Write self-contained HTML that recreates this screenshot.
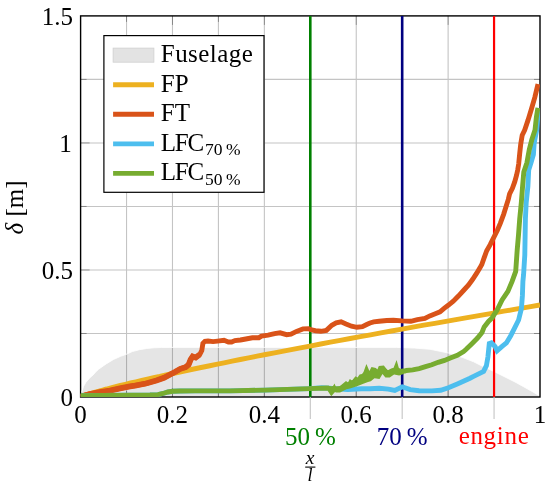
<!DOCTYPE html>
<html><head><meta charset="utf-8"><style>
html,body{margin:0;padding:0;background:#fff;}
svg{display:block;filter:blur(0.3px);}
</style></head><body>
<svg width="550" height="490" viewBox="0 0 550 490" font-family="Liberation Serif, serif" font-size="25">
<defs><clipPath id="c"><rect x="80.6" y="15.9" width="459.4" height="381.1"/></clipPath></defs>
<rect width="550" height="490" fill="#fff"/>
<g stroke="#c4c4c4" stroke-width="1.1"><line x1="126.54" y1="15.9" x2="126.54" y2="397.0"/><line x1="172.48" y1="15.9" x2="172.48" y2="397.0"/><line x1="218.42" y1="15.9" x2="218.42" y2="397.0"/><line x1="264.36" y1="15.9" x2="264.36" y2="397.0"/><line x1="310.30" y1="15.9" x2="310.30" y2="397.0"/><line x1="356.24" y1="15.9" x2="356.24" y2="397.0"/><line x1="402.18" y1="15.9" x2="402.18" y2="397.0"/><line x1="448.12" y1="15.9" x2="448.12" y2="397.0"/><line x1="494.06" y1="15.9" x2="494.06" y2="397.0"/><line x1="80.6" y1="333.48" x2="540.0" y2="333.48"/><line x1="80.6" y1="269.97" x2="540.0" y2="269.97"/><line x1="80.6" y1="206.45" x2="540.0" y2="206.45"/><line x1="80.6" y1="142.93" x2="540.0" y2="142.93"/><line x1="80.6" y1="79.42" x2="540.0" y2="79.42"/></g>
<rect x="80.6" y="15.9" width="459.40" height="381.10" fill="none" stroke="#000" stroke-width="1.4"/>
<g stroke="#000" stroke-width="0.8" stroke-opacity="0.4"><line x1="126.54" y1="397.0" x2="126.54" y2="391.0"/><line x1="126.54" y1="15.9" x2="126.54" y2="21.9"/><line x1="172.48" y1="397.0" x2="172.48" y2="388.0"/><line x1="172.48" y1="15.9" x2="172.48" y2="24.9"/><line x1="218.42" y1="397.0" x2="218.42" y2="391.0"/><line x1="218.42" y1="15.9" x2="218.42" y2="21.9"/><line x1="264.36" y1="397.0" x2="264.36" y2="388.0"/><line x1="264.36" y1="15.9" x2="264.36" y2="24.9"/><line x1="310.30" y1="397.0" x2="310.30" y2="391.0"/><line x1="310.30" y1="15.9" x2="310.30" y2="21.9"/><line x1="356.24" y1="397.0" x2="356.24" y2="388.0"/><line x1="356.24" y1="15.9" x2="356.24" y2="24.9"/><line x1="402.18" y1="397.0" x2="402.18" y2="391.0"/><line x1="402.18" y1="15.9" x2="402.18" y2="21.9"/><line x1="448.12" y1="397.0" x2="448.12" y2="388.0"/><line x1="448.12" y1="15.9" x2="448.12" y2="24.9"/><line x1="494.06" y1="397.0" x2="494.06" y2="391.0"/><line x1="494.06" y1="15.9" x2="494.06" y2="21.9"/><line x1="80.6" y1="333.48" x2="86.6" y2="333.48"/><line x1="540.0" y1="333.48" x2="534.0" y2="333.48"/><line x1="80.6" y1="269.97" x2="89.6" y2="269.97"/><line x1="540.0" y1="269.97" x2="531.0" y2="269.97"/><line x1="80.6" y1="206.45" x2="86.6" y2="206.45"/><line x1="540.0" y1="206.45" x2="534.0" y2="206.45"/><line x1="80.6" y1="142.93" x2="89.6" y2="142.93"/><line x1="540.0" y1="142.93" x2="531.0" y2="142.93"/><line x1="80.6" y1="79.42" x2="86.6" y2="79.42"/><line x1="540.0" y1="79.42" x2="534.0" y2="79.42"/></g>
<g clip-path="url(#c)">
<polygon points="80.6,397.0 81.7,392.4 83.5,386.5 85.8,382.5 89.9,377.8 93.1,375.0 95.7,372.0 98.9,369.0 106.2,363.9 113.5,359.5 120.7,356.3 125.8,354.5 132.3,351.6 139.5,349.7 146.8,348.5 154.1,347.8 161.4,347.5 170.0,347.4 396.4,347.4 414.5,348.1 430.0,349.3 440.9,351.5 448.5,353.1 462.7,357.5 473.6,361.8 482.4,366.2 496.0,372.5 505.0,377.0 515.0,382.0 525.0,387.5 533.0,392.0 538.0,395.0 539.6,396.6 539.6,397.0" fill="#000" fill-opacity="0.1" stroke="none"/>
<polyline points="81.7,392.4 83.5,386.5 85.8,382.5 89.9,377.8 93.1,375.0 95.7,372.0 98.9,369.0 106.2,363.9 113.5,359.5 120.7,356.3 125.8,354.5 132.3,351.6 139.5,349.7 146.8,348.5 154.1,347.8 161.4,347.5 170.0,347.4 396.4,347.4 414.5,348.1 430.0,349.3 440.9,351.5 448.5,353.1 462.7,357.5 473.6,361.8 482.4,366.2 496.0,372.5 505.0,377.0 515.0,382.0 525.0,387.5 533.0,392.0 538.0,395.0" fill="none" stroke="#fff" stroke-width="0.8"/>
<g stroke-width="2.6">
<line x1="310.30" y1="15.9" x2="310.30" y2="397.0" stroke="#008000"/>
<line x1="402.18" y1="15.9" x2="402.18" y2="397.0" stroke="#000080"/>
<line x1="494.06" y1="15.9" x2="494.06" y2="397.0" stroke="#ff0000" stroke-width="2.2"/>
</g>
<g fill="none" stroke-width="4.9" stroke-linejoin="miter" stroke-miterlimit="4">
<polyline points="80.6,397.0 81.3,396.6 82.6,396.1 84.4,395.4 86.6,394.7 89.2,393.9 92.1,393.0 95.4,392.0 98.9,391.1 102.7,390.0 106.7,389.0 111.0,387.8 115.6,386.7 120.4,385.5 125.4,384.3 130.6,383.0 136.0,381.8 141.7,380.5 147.5,379.1 153.6,377.7 159.8,376.4 166.2,374.9 172.9,373.5 179.7,372.0 186.6,370.5 193.8,369.0 201.1,367.5 208.6,366.0 216.3,364.4 224.1,362.8 232.1,361.2 240.3,359.5 248.6,357.9 257.1,356.2 265.7,354.5 274.5,352.8 283.5,351.1 292.6,349.3 301.8,347.6 311.2,345.8 320.7,344.0 330.4,342.2 340.2,340.4 350.2,338.5 360.3,336.7 370.5,334.8 380.9,332.9 391.4,331.0 402.1,329.1 412.8,327.2 423.8,325.2 434.8,323.3 446.0,321.3 457.3,319.3 468.7,317.3 480.3,315.3 492.0,313.3 503.8,311.2 515.7,309.2 527.8,307.1 540.0,305.0" stroke="#EDB120"/>
<polyline points="80.6,396.5 90.0,394.0 100.0,392.2 110.0,390.6 120.0,388.3 130.0,386.4 135.0,385.6 145.9,383.5 156.4,380.5 164.0,377.8 170.2,374.5 175.3,371.8 180.4,368.8 185.5,367.2 188.6,364.7 190.6,359.6 192.7,356.5 195.7,357.6 199.8,354.5 201.8,350.4 202.9,343.3 204.9,341.3 208.0,341.0 213.1,341.6 217.5,341.1 224.0,340.3 228.4,342.0 231.6,342.0 234.9,340.6 240.4,340.0 245.8,339.0 252.4,337.8 258.9,337.7 261.5,336.2 268.1,335.2 274.6,333.6 280.1,332.8 286.6,334.7 291.0,334.1 296.5,331.4 303.0,328.9 308.5,328.7 311.7,330.0 315.5,330.7 320.9,331.3 326.4,330.4 331.8,325.3 336.2,322.9 341.1,321.8 346.0,324.0 351.5,326.2 356.9,327.3 362.4,326.7 366.7,324.5 370.0,323.0 373.7,321.9 379.2,321.3 386.8,320.5 393.4,320.2 402.1,320.9 410.8,321.3 417.4,319.6 424.9,318.4 429.8,315.9 435.9,313.5 440.0,311.9 444.1,308.4 448.2,305.3 453.3,301.2 458.4,296.1 463.5,290.5 468.6,284.9 472.7,279.3 476.7,273.2 479.8,268.1 481.8,264.5 484.1,257.9 486.7,250.7 490.2,244.6 493.8,237.4 497.4,230.3 500.4,223.2 503.7,214.1 506.0,206.7 508.3,199.4 509.6,193.9 512.4,188.4 514.7,181.9 516.5,175.5 517.7,170.0 518.7,163.8 519.7,153.6 520.7,144.4 522.2,135.2 524.7,130.0 528.1,119.9 531.5,108.7 534.8,97.4 538.0,84.0" stroke="#D95319"/>
<polyline points="80.6,396.5 90.0,394.0 100.0,392.2 110.0,390.6 120.0,388.3 130.0,386.4 135.0,385.6 145.9,383.5 156.4,380.5 164.0,377.8 170.2,374.5 175.3,371.8 180.4,368.8 185.5,367.2 188.6,364.7 190.6,359.6 192.7,356.5 195.7,357.6 199.8,354.5" stroke="#D95319" stroke-width="5.8"/>
<polyline points="80.6,395.6 150.0,395.0 158.0,394.6 163.0,393.5 168.0,392.0 172.7,391.3 180.0,391.0 195.0,390.9 230.0,390.9 265.0,390.1 309.5,388.6 321.8,387.8 329.5,388.2 347.7,389.6 361.4,388.7 370.0,388.7 379.2,388.2 388.4,389.1 394.8,390.5 402.2,386.8 410.2,389.6 419.1,390.7 431.8,390.9 440.7,390.3 448.4,387.7 457.3,383.9 470.0,378.2 473.6,376.4 483.6,371.4 486.4,365.7 487.9,357.1 489.3,343.6 491.4,342.9 495.0,346.4 497.1,350.7 502.1,346.4 506.4,342.9 510.7,335.7 514.3,328.6 518.6,320.0 521.4,308.6 522.4,295.7 522.9,281.4 523.6,274.3 524.8,255.0 525.4,219.0 526.2,202.7 527.9,186.3 528.7,170.0 531.0,162.7 533.4,154.5 534.2,143.1 536.7,130.0 538.5,108.0" stroke="#4DBEEE"/>
<polyline points="80.6,395.6 150.0,395.0 158.0,394.6 163.0,393.5 168.0,392.0 172.7,391.3 180.0,391.0 195.0,390.9 230.0,390.9 265.0,390.1 309.5,388.6 327.0,388.0 329.0,388.5 331.5,392.2 334.5,388.8 340.0,389.0 346.5,385.5 350.0,384.0 355.5,381.5 359.6,380.0 364.0,378.0 368.0,376.5 372.0,374.0 376.0,372.5 380.0,372.0 384.0,370.0 388.0,373.5 392.0,371.5 396.0,369.5 400.0,371.5 404.9,371.0 406.4,370.5 412.7,369.9 419.1,368.6 425.5,366.7 431.8,364.8 438.2,362.3 444.5,360.4 450.9,357.8 457.3,355.3 463.6,351.5 466.2,349.3 471.9,343.7 477.5,338.1 482.0,332.5 484.2,326.9 488.7,321.2 492.1,317.9 494.9,313.4 497.1,310.0 502.1,300.0 507.9,291.4 512.1,281.4 515.7,271.4 517.2,250.0 518.5,235.0 519.7,219.0 521.3,202.7 522.6,186.3 523.8,172.0 526.9,162.7 529.3,149.6 531.8,139.8 535.0,130.0 536.4,117.1 537.9,107.9" stroke="#77AC30"/>
<polygon points="328.0,385.5 330.0,386.5 333.0,386.0 334.5,383.5 336.0,387.0 340.0,386.0 343.0,383.5 346.0,381.0 348.0,382.5 349.8,379.0 352.0,380.5 355.5,376.2 357.5,377.5 359.6,374.6 362.0,374.0 363.5,372.0 366.4,364.1 369.4,371.0 371.5,367.0 375.9,368.0 377.4,369.5 378.8,365.9 383.9,365.5 387.5,370.6 391.2,368.5 393.5,368.0 396.6,360.1 399.0,368.5 401.4,369.0 404.0,368.5 404.0,374.0 402.0,374.5 399.2,375.4 394.1,374.6 389.7,377.5 385.4,377.5 382.5,373.9 379.5,379.0 374.5,378.3 370.8,381.2 368.0,382.0 364.0,383.5 359.6,385.2 355.5,386.8 350.0,388.5 346.5,389.3 340.0,392.5 336.0,392.5 334.0,391.5 331.0,395.0 328.0,390.0" fill="#77AC30" stroke="none"/>
</g>
</g>
<g stroke="#c4c4c4" stroke-width="1.1">
<line x1="310.30" y1="397.0" x2="310.30" y2="419"/>
<line x1="402.18" y1="397.0" x2="402.18" y2="419"/>
<line x1="494.06" y1="397.0" x2="494.06" y2="419"/>
</g>
<rect x="103.9" y="35.6" width="160.1" height="156.7" fill="#fff" stroke="#000" stroke-width="1.2"/><rect x="113.1" y="48.1" width="40.8" height="14.1" fill="#e3e3e3" stroke="#d0d0d0" stroke-width="0.8"/><line x1="113.1" y1="84.75" x2="154" y2="84.75" stroke="#EDB120" stroke-width="4.9"/><line x1="113.1" y1="114.3" x2="154" y2="114.3" stroke="#D95319" stroke-width="4.9"/><line x1="113.1" y1="143.85" x2="154" y2="143.85" stroke="#4DBEEE" stroke-width="4.9"/><line x1="113.1" y1="173.4" x2="154" y2="173.4" stroke="#77AC30" stroke-width="4.9"/><text x="160.8" y="62.20" letter-spacing="0.45">Fuselage</text><text x="160.8" y="91.75">FP</text><text x="160.8" y="121.30">FT</text><text x="160.8" y="150.85"><tspan letter-spacing="-1.2">LF</tspan><tspan>C</tspan><tspan font-size="17.5" dy="4.4" dx="0.8">70&#8201;%</tspan></text><text x="160.8" y="180.40"><tspan letter-spacing="-1.2">LF</tspan><tspan>C</tspan><tspan font-size="17.5" dy="4.4" dx="0.8">50&#8201;%</tspan></text>
<text x="80.60" y="422.5" text-anchor="middle">0</text><text x="172.48" y="422.5" text-anchor="middle">0.2</text><text x="264.36" y="422.5" text-anchor="middle">0.4</text><text x="356.24" y="422.5" text-anchor="middle">0.6</text><text x="448.12" y="422.5" text-anchor="middle">0.8</text><text x="540.00" y="422.5" text-anchor="middle">1</text>
<text x="72.9" y="406.20" text-anchor="end">0</text><text x="72.9" y="279.17" text-anchor="end">0.5</text><text x="71.7" y="152.13" text-anchor="end">1</text><text x="72.9" y="25.10" text-anchor="end">1.5</text>
<text x="310.30" y="444.5" text-anchor="middle" fill="#008000">50&#8201;%</text>
<text x="402.18" y="444.5" text-anchor="middle" fill="#000080">70&#8201;%</text>
<text x="494.06" y="443.8" text-anchor="middle" fill="#ff0000" letter-spacing="0.7">engine</text>
<g font-style="italic" font-size="18" text-anchor="middle">
<text x="310" y="463.8" font-size="19.5">x</text>
<line x1="305.2" y1="467.1" x2="315.4" y2="467.1" stroke="#000" stroke-width="1.1"/>
<text x="310" y="480.8">l</text>
</g>
<text transform="translate(22.9,207.5) rotate(-90)" text-anchor="middle"><tspan font-style="italic">δ</tspan> [m]</text>
</svg>
</body></html>
